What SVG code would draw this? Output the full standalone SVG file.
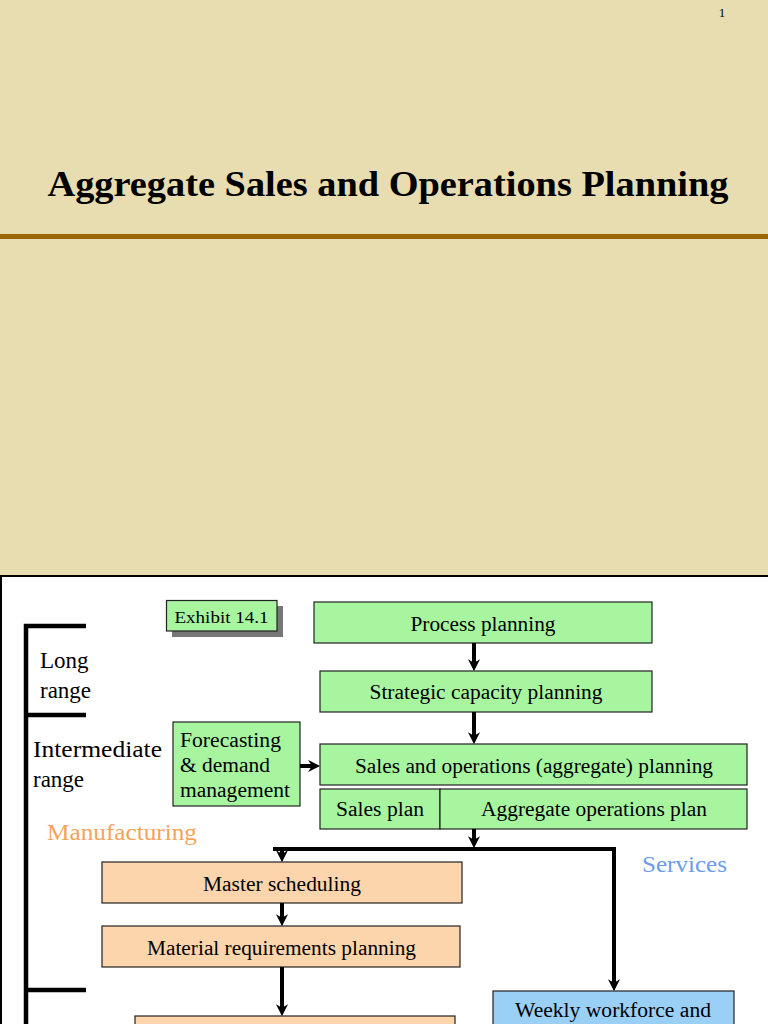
<svg xmlns="http://www.w3.org/2000/svg" width="768" height="1024" viewBox="0 0 768 1024">
  <style>
    .t { font-family: "Liberation Serif", "Times New Roman", serif; fill: #000; }
    .box { stroke: #222; stroke-width: 1.2; }
    .g { fill: #A8F5A0; }
    .o { fill: #FDD5AC; }
    .b { fill: #9AD0F5; }
    .bt { font-size: 20px; text-anchor: middle; }
    .lbl { font-size: 23px; }
    .con { stroke: #000; stroke-width: 4; fill: none; }
    .br { stroke: #000; stroke-width: 4.5; fill: none; }
  </style>
  <defs>
    <marker id="ah" viewBox="0 0 10 10" refX="4" refY="5" markerWidth="12" markerHeight="12" markerUnits="userSpaceOnUse" orient="auto">
      <path d="M0,0 L10,5 L0,10 L3,5 z" fill="#000"/>
    </marker>
  </defs>

  <!-- slide background -->
  <rect x="0" y="0" width="768" height="576" fill="#E7DDB0"/>
  <rect x="0" y="234" width="768" height="5" fill="#9A6700"/>
  <text class="t" x="722" y="17" font-size="13" text-anchor="middle">1</text>
  <text class="t" x="388" y="196" font-size="35" font-weight="bold" text-anchor="middle" textLength="681" lengthAdjust="spacingAndGlyphs">Aggregate Sales and Operations Planning</text>

  <!-- exhibit panel -->
  <rect x="1" y="576" width="770" height="452" fill="#FFFFFF" stroke="#000" stroke-width="2"/>

  <!-- range bracket -->
  <g id="bracket">
    <path class="br" d="M26,1024 V626 H86 M26,715 H86 M26,990 H86"/>
    <text class="t lbl" x="40" y="668">Long</text>
    <text class="t lbl" x="40" y="698">range</text>
    <text class="t lbl" x="33" y="757" textLength="129" lengthAdjust="spacingAndGlyphs">Intermediate</text>
    <text class="t lbl" x="33" y="787">range</text>
    <text class="t lbl" x="47" y="840" style="fill:#F5A35A" textLength="150" lengthAdjust="spacingAndGlyphs">Manufacturing</text>
    <text class="t lbl" x="642" y="872" style="fill:#6C9CEB" textLength="85" lengthAdjust="spacingAndGlyphs">Services</text>
  </g>

  <g id="exhibit">
    <rect x="172" y="606" width="111" height="31" fill="#777"/>
    <rect class="box g" x="166.5" y="600.5" width="110.5" height="30.5"/>
    <text class="t" x="221.5" y="623" font-size="17" text-anchor="middle" textLength="94" lengthAdjust="spacingAndGlyphs">Exhibit 14.1</text>
  </g>

  <g id="process-planning">
    <rect class="box g" x="314" y="602" width="338" height="41"/>
    <text class="t bt" x="483" y="631" textLength="145" lengthAdjust="spacingAndGlyphs">Process planning</text>
  </g>

  <g id="strategic-capacity">
    <rect class="box g" x="320" y="671" width="332" height="41"/>
    <text class="t bt" x="486" y="699" textLength="233" lengthAdjust="spacingAndGlyphs">Strategic capacity planning</text>
  </g>

  <g id="forecasting">
    <rect class="box g" x="173" y="722" width="127" height="84"/>
    <text class="t" x="180" y="747" font-size="20" textLength="101" lengthAdjust="spacingAndGlyphs">Forecasting</text>
    <text class="t" x="180" y="772" font-size="20" textLength="90" lengthAdjust="spacingAndGlyphs">&amp; demand</text>
    <text class="t" x="180" y="797" font-size="20" textLength="110" lengthAdjust="spacingAndGlyphs">management</text>
  </g>

  <g id="sop">
    <rect class="box g" x="320" y="744" width="427" height="41"/>
    <text class="t bt" x="534" y="773" textLength="358" lengthAdjust="spacingAndGlyphs">Sales and operations (aggregate) planning</text>
  </g>

  <g id="sales-plan">
    <rect class="box g" x="320" y="789" width="120" height="40"/>
    <text class="t bt" x="380" y="816" textLength="88" lengthAdjust="spacingAndGlyphs">Sales plan</text>
  </g>

  <g id="aggregate-ops-plan">
    <rect class="box g" x="440" y="789" width="307" height="40"/>
    <text class="t bt" x="594" y="816" textLength="226" lengthAdjust="spacingAndGlyphs">Aggregate operations plan</text>
  </g>

  <g id="master-scheduling">
    <rect class="box o" x="102" y="862" width="360" height="41"/>
    <text class="t bt" x="282" y="891" textLength="158" lengthAdjust="spacingAndGlyphs">Master scheduling</text>
  </g>

  <g id="mrp">
    <rect class="box o" x="102" y="926" width="358" height="41"/>
    <text class="t bt" x="281.5" y="955" textLength="269" lengthAdjust="spacingAndGlyphs">Material requirements planning</text>
  </g>

  <g id="next-manufacturing">
    <rect class="box o" x="135" y="1016" width="320" height="20"/>
  </g>

  <g id="weekly-workforce">
    <rect class="box b" x="493" y="991" width="241" height="45"/>
    <text class="t bt" x="613" y="1017" textLength="196" lengthAdjust="spacingAndGlyphs">Weekly workforce and</text>
  </g>

  <g id="connectors">
    <line class="con" x1="474" y1="643" x2="474" y2="664" marker-end="url(#ah)"/>
    <line class="con" x1="474" y1="712" x2="474" y2="737" marker-end="url(#ah)"/>
    <line class="con" x1="300" y1="766" x2="313" y2="766" marker-end="url(#ah)"/>
    <line class="con" x1="474" y1="829" x2="474" y2="841" marker-end="url(#ah)"/>
    <path class="con" d="M273,849 H614 V984" marker-end="url(#ah)"/>
    <line class="con" x1="282" y1="849" x2="282" y2="855" marker-end="url(#ah)"/>
    <line class="con" x1="282" y1="903" x2="282" y2="919" marker-end="url(#ah)"/>
    <line class="con" x1="282" y1="967" x2="282" y2="1009" marker-end="url(#ah)"/>
  </g>
</svg>
